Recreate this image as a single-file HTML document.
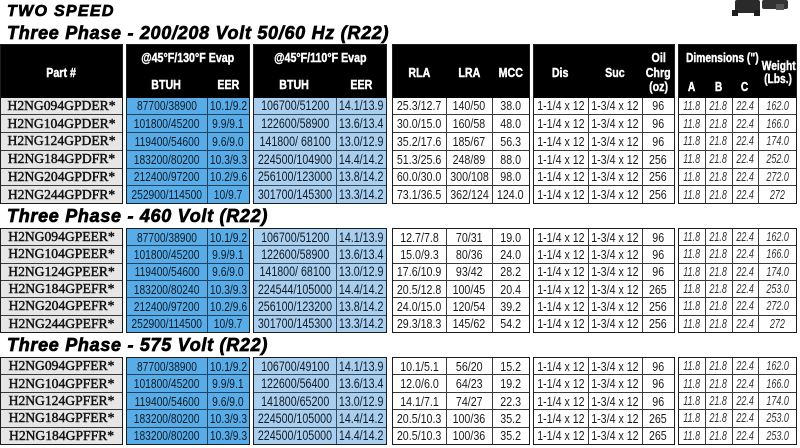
<!DOCTYPE html>
<html><head><meta charset="utf-8">
<style>
html,body{margin:0;padding:0;background:#fff}
#pg{position:relative;width:800px;height:448px;overflow:hidden;background:#fff;font-family:"Liberation Sans",Arial,sans-serif}
.t{position:absolute;left:7px;font-family:"Liberation Sans",Arial,sans-serif;font-weight:bold;font-style:italic;color:#000;white-space:nowrap;-webkit-text-stroke:0.7px #000}
.t1{top:4px;font-size:16px;line-height:16px;letter-spacing:1.3px}
.t2{font-size:18px;line-height:18px;letter-spacing:0.7px}
.b{position:absolute;box-sizing:border-box;border:1.5px solid #1c1c1c;display:flex;flex-direction:column;overflow:hidden}
.h{background:#000;flex:none;height:52.5px}
.r{flex:1;display:flex;border-top:1px solid #3a3a3a;min-height:0}
.b>.r:first-child,.h+.r{border-top:none}
.c{display:flex;align-items:center;justify-content:center;border-left:1px solid #3a3a3a;box-sizing:border-box;flex:none;overflow:visible;color:#1a1a1a;min-width:0}
.c:first-child{border-left:none}
.c.f{flex:1 1 0;min-width:0}
.c span{display:inline-block;transform:scaleX(.82);white-space:nowrap;flex:none}
.p{background:#e6e6e6}
.p .c{font-family:"Liberation Serif","Times New Roman",serif;font-size:13.6px;color:#111;-webkit-text-stroke:0.45px #111}
.p .c span{transform:none}
.b1{background:#58ade8;font-size:13px}
.b1 .c{color:#0f1a26;border-color:#24425c}
.b1 .c span{transform:scaleX(.79)}
.b1 .r{border-color:#24425c}
.b2{background:#a9cff0;font-size:13.5px}
.b2 .c{color:#111a22;border-color:#3a4a58}
.b2 .c span{transform:scaleX(.79)}
.b2 .r{border-color:#3a4a58}
.b3,.b4{background:#fff;font-size:13px}
.b5{background:#fff;font-size:12.5px;font-style:italic}
.b5 .c{color:#333}
.b5 .c span{transform:scaleX(.72)}
.hl{position:absolute;color:#fff;font-family:"Liberation Sans",Arial,sans-serif;font-weight:bold;font-size:13px;line-height:14px;height:14px;text-align:center;white-space:nowrap;-webkit-text-stroke:0.4px #fff}
.hl span{display:inline-block;transform:scaleX(.82)}
.hs{font-size:12.5px}
</style></head><body>
<div id="pg">
<svg style="position:absolute;left:728px;top:0" width="66" height="18" viewBox="0 0 66 18">
<rect x="7" y="0" width="25" height="13" rx="2" fill="#2a2a2a"/>
<rect x="4" y="10" width="6" height="6" fill="#1e1e1e"/>
<rect x="26" y="10" width="6" height="6" fill="#1e1e1e"/>
<rect x="34" y="0" width="26" height="9" rx="2" fill="#333"/>
<rect x="48" y="4" width="8" height="6" fill="#555"/>
</svg>
<div class="t t1">TWO SPEED</div>
<div class="t t2" style="top:23.8px">Three Phase - 200/208 Volt 50/60 Hz (R22)</div>
<div class="t t2" style="top:206.8px">Three Phase - 460 Volt (R22)</div>
<div class="t t2" style="top:335.8px">Three Phase - 575 Volt (R22)</div>

<!-- SECTION 1 -->
<div class="b p" style="left:0;top:44px;width:123px;height:160px">
<div class="h"></div>
<div class="r"><div class="c f"><span>H2NG094GPDER*</span></div></div>
<div class="r"><div class="c f"><span>H2NG104GPDER*</span></div></div>
<div class="r"><div class="c f"><span>H2NG124GPDER*</span></div></div>
<div class="r"><div class="c f"><span>H2NG184GPDFR*</span></div></div>
<div class="r"><div class="c f"><span>H2NG204GPDFR*</span></div></div>
<div class="r"><div class="c f"><span>H2NG244GPDFR*</span></div></div>
</div>
<div class="b b1" style="left:126px;top:44px;width:124px;height:160px">
<div class="h"></div>
<div class="r"><div class="c" style="width:79.5px"><span>87700/38900</span></div><div class="c f"><span>10.1/9.2</span></div></div>
<div class="r"><div class="c" style="width:79.5px"><span>101800/45200</span></div><div class="c f"><span>9.9/9.1</span></div></div>
<div class="r"><div class="c" style="width:79.5px"><span>119400/54600</span></div><div class="c f"><span>9.6/9.0</span></div></div>
<div class="r"><div class="c" style="width:79.5px"><span>183200/80200</span></div><div class="c f"><span>10.3/9.3</span></div></div>
<div class="r"><div class="c" style="width:79.5px"><span>212400/97200</span></div><div class="c f"><span>10.2/9.6</span></div></div>
<div class="r"><div class="c" style="width:79.5px"><span>252900/114500</span></div><div class="c f"><span>10/9.7</span></div></div>
</div>
<div class="b b2" style="left:253px;top:44px;width:134px;height:160px">
<div class="h"></div>
<div class="r"><div class="c" style="width:81.5px"><span>106700/51200</span></div><div class="c f"><span>14.1/13.9</span></div></div>
<div class="r"><div class="c" style="width:81.5px"><span>122600/58900</span></div><div class="c f"><span>13.6/13.4</span></div></div>
<div class="r"><div class="c" style="width:81.5px"><span>141800/ 68100</span></div><div class="c f"><span>13.0/12.9</span></div></div>
<div class="r"><div class="c" style="width:81.5px"><span>224500/104900</span></div><div class="c f"><span>14.4/14.2</span></div></div>
<div class="r"><div class="c" style="width:81.5px"><span>256100/123000</span></div><div class="c f"><span>13.8/14.2</span></div></div>
<div class="r"><div class="c" style="width:81.5px"><span>301700/145300</span></div><div class="c f"><span>13.3/14.2</span></div></div>
</div>
<div class="b b3" style="left:392px;top:44px;width:138px;height:160px">
<div class="h"></div>
<div class="r"><div class="c" style="width:52.5px"><span>25.3/12.7</span></div><div class="c" style="width:46px"><span>140/50</span></div><div class="c f"><span>38.0</span></div></div>
<div class="r"><div class="c" style="width:52.5px"><span>30.0/15.0</span></div><div class="c" style="width:46px"><span>160/58</span></div><div class="c f"><span>48.0</span></div></div>
<div class="r"><div class="c" style="width:52.5px"><span>35.2/17.6</span></div><div class="c" style="width:46px"><span>185/67</span></div><div class="c f"><span>56.3</span></div></div>
<div class="r"><div class="c" style="width:52.5px"><span>51.3/25.6</span></div><div class="c" style="width:46px"><span>248/89</span></div><div class="c f"><span>88.0</span></div></div>
<div class="r"><div class="c" style="width:52.5px"><span>60.0/30.0</span></div><div class="c" style="width:46px"><span>300/108</span></div><div class="c f"><span>98.0</span></div></div>
<div class="r"><div class="c" style="width:52.5px"><span>73.1/36.5</span></div><div class="c" style="width:46px"><span>362/124</span></div><div class="c f"><span>124.0</span></div></div>
</div>
<div class="b b4" style="left:533px;top:44px;width:142px;height:160px">
<div class="h"></div>
<div class="r"><div class="c" style="width:53.5px"><span>1-1/4 x 12</span></div><div class="c" style="width:54px"><span>1-3/4 x 12</span></div><div class="c f"><span>96</span></div></div>
<div class="r"><div class="c" style="width:53.5px"><span>1-1/4 x 12</span></div><div class="c" style="width:54px"><span>1-3/4 x 12</span></div><div class="c f"><span>96</span></div></div>
<div class="r"><div class="c" style="width:53.5px"><span>1-1/4 x 12</span></div><div class="c" style="width:54px"><span>1-3/4 x 12</span></div><div class="c f"><span>96</span></div></div>
<div class="r"><div class="c" style="width:53.5px"><span>1-1/4 x 12</span></div><div class="c" style="width:54px"><span>1-3/4 x 12</span></div><div class="c f"><span>256</span></div></div>
<div class="r"><div class="c" style="width:53.5px"><span>1-1/4 x 12</span></div><div class="c" style="width:54px"><span>1-3/4 x 12</span></div><div class="c f"><span>256</span></div></div>
<div class="r"><div class="c" style="width:53.5px"><span>1-1/4 x 12</span></div><div class="c" style="width:54px"><span>1-3/4 x 12</span></div><div class="c f"><span>256</span></div></div>
</div>
<div class="b b5" style="left:678px;top:44px;width:119px;height:160px">
<div class="h"></div>
<div class="r"><div class="c" style="width:25.5px"><span>11.8</span></div><div class="c" style="width:27px"><span>21.8</span></div><div class="c" style="width:26px"><span>22.4</span></div><div class="c f"><span>162.0</span></div></div>
<div class="r"><div class="c" style="width:25.5px"><span>11.8</span></div><div class="c" style="width:27px"><span>21.8</span></div><div class="c" style="width:26px"><span>22.4</span></div><div class="c f"><span>166.0</span></div></div>
<div class="r"><div class="c" style="width:25.5px"><span>11.8</span></div><div class="c" style="width:27px"><span>21.8</span></div><div class="c" style="width:26px"><span>22.4</span></div><div class="c f"><span>174.0</span></div></div>
<div class="r"><div class="c" style="width:25.5px"><span>11.8</span></div><div class="c" style="width:27px"><span>21.8</span></div><div class="c" style="width:26px"><span>22.4</span></div><div class="c f"><span>252.0</span></div></div>
<div class="r"><div class="c" style="width:25.5px"><span>11.8</span></div><div class="c" style="width:27px"><span>21.8</span></div><div class="c" style="width:26px"><span>22.4</span></div><div class="c f"><span>272.0</span></div></div>
<div class="r"><div class="c" style="width:25.5px"><span>11.8</span></div><div class="c" style="width:27px"><span>21.8</span></div><div class="c" style="width:26px"><span>22.4</span></div><div class="c f"><span>272</span></div></div>
</div>

<!-- header labels -->
<div class="hl" style="left:0;width:123px;top:66px"><span>Part #</span></div>
<div class="hl" style="left:126px;width:124px;top:51px"><span>@45°F/130°F Evap</span></div>
<div class="hl" style="left:126px;width:81px;top:78px"><span>BTUH</span></div>
<div class="hl" style="left:207px;width:43px;top:78px"><span>EER</span></div>
<div class="hl" style="left:253px;width:134px;top:51px"><span>@45°F/110°F Evap</span></div>
<div class="hl" style="left:253px;width:83px;top:78px"><span>BTUH</span></div>
<div class="hl" style="left:336px;width:51px;top:78px"><span>EER</span></div>
<div class="hl" style="left:392px;width:54px;top:66px"><span>RLA</span></div>
<div class="hl" style="left:446px;width:46px;top:66px"><span>LRA</span></div>
<div class="hl" style="left:492px;width:38px;top:66px"><span>MCC</span></div>
<div class="hl" style="left:533px;width:55px;top:66px"><span>Dis</span></div>
<div class="hl" style="left:588px;width:54px;top:66px"><span>Suc</span></div>
<div class="hl" style="left:642px;width:33px;top:51px"><span>Oil</span></div>
<div class="hl" style="left:642px;width:33px;top:65.5px"><span>Chrg</span></div>
<div class="hl" style="left:642px;width:33px;top:80px"><span>(oz)</span></div>
<div class="hl hs" style="left:678px;width:80px;top:51px"><span>Dimensions (")</span></div>
<div class="hl hs" style="left:678px;width:27px;top:80px"><span>A</span></div>
<div class="hl hs" style="left:705px;width:27px;top:80px"><span>B</span></div>
<div class="hl hs" style="left:732px;width:26px;top:80px"><span>C</span></div>
<div class="hl hs" style="left:758px;width:40px;top:59px"><span>Weight</span></div>
<div class="hl hs" style="left:758px;width:40px;top:72px"><span>(Lbs.)</span></div>

<!-- SECTION 2 -->
<div class="b p" style="left:0;top:228px;width:123px;height:105px">
<div class="r"><div class="c f"><span>H2NG094GPEER*</span></div></div>
<div class="r"><div class="c f"><span>H2NG104GPEER*</span></div></div>
<div class="r"><div class="c f"><span>H2NG124GPEER*</span></div></div>
<div class="r"><div class="c f"><span>H2NG184GPEFR*</span></div></div>
<div class="r"><div class="c f"><span>H2NG204GPEFR*</span></div></div>
<div class="r"><div class="c f"><span>H2NG244GPEFR*</span></div></div>
</div>
<div class="b b1" style="left:126px;top:228px;width:124px;height:105px">
<div class="r"><div class="c" style="width:79.5px"><span>87700/38900</span></div><div class="c f"><span>10.1/9.2</span></div></div>
<div class="r"><div class="c" style="width:79.5px"><span>101800/45200</span></div><div class="c f"><span>9.9/9.1</span></div></div>
<div class="r"><div class="c" style="width:79.5px"><span>119400/54600</span></div><div class="c f"><span>9.6/9.0</span></div></div>
<div class="r"><div class="c" style="width:79.5px"><span>183200/80240</span></div><div class="c f"><span>10.3/9.3</span></div></div>
<div class="r"><div class="c" style="width:79.5px"><span>212400/97200</span></div><div class="c f"><span>10.2/9.6</span></div></div>
<div class="r"><div class="c" style="width:79.5px"><span>252900/114500</span></div><div class="c f"><span>10/9.7</span></div></div>
</div>
<div class="b b2" style="left:253px;top:228px;width:134px;height:105px">
<div class="r"><div class="c" style="width:81.5px"><span>106700/51200</span></div><div class="c f"><span>14.1/13.9</span></div></div>
<div class="r"><div class="c" style="width:81.5px"><span>122600/58900</span></div><div class="c f"><span>13.6/13.4</span></div></div>
<div class="r"><div class="c" style="width:81.5px"><span>141800/ 68100</span></div><div class="c f"><span>13.0/12.9</span></div></div>
<div class="r"><div class="c" style="width:81.5px"><span>224544/105000</span></div><div class="c f"><span>14.4/14.2</span></div></div>
<div class="r"><div class="c" style="width:81.5px"><span>256100/123200</span></div><div class="c f"><span>13.8/14.2</span></div></div>
<div class="r"><div class="c" style="width:81.5px"><span>301700/145300</span></div><div class="c f"><span>13.3/14.2</span></div></div>
</div>
<div class="b b3" style="left:392px;top:228px;width:138px;height:105px">
<div class="r"><div class="c" style="width:52.5px"><span>12.7/7.8</span></div><div class="c" style="width:46px"><span>70/31</span></div><div class="c f"><span>19.0</span></div></div>
<div class="r"><div class="c" style="width:52.5px"><span>15.0/9.3</span></div><div class="c" style="width:46px"><span>80/36</span></div><div class="c f"><span>24.0</span></div></div>
<div class="r"><div class="c" style="width:52.5px"><span>17.6/10.9</span></div><div class="c" style="width:46px"><span>93/42</span></div><div class="c f"><span>28.2</span></div></div>
<div class="r"><div class="c" style="width:52.5px"><span>20.5/12.8</span></div><div class="c" style="width:46px"><span>100/45</span></div><div class="c f"><span>20.4</span></div></div>
<div class="r"><div class="c" style="width:52.5px"><span>24.0/15.0</span></div><div class="c" style="width:46px"><span>120/54</span></div><div class="c f"><span>39.2</span></div></div>
<div class="r"><div class="c" style="width:52.5px"><span>29.3/18.3</span></div><div class="c" style="width:46px"><span>145/62</span></div><div class="c f"><span>54.2</span></div></div>
</div>
<div class="b b4" style="left:533px;top:228px;width:142px;height:105px">
<div class="r"><div class="c" style="width:53.5px"><span>1-1/4 x 12</span></div><div class="c" style="width:54px"><span>1-3/4 x 12</span></div><div class="c f"><span>96</span></div></div>
<div class="r"><div class="c" style="width:53.5px"><span>1-1/4 x 12</span></div><div class="c" style="width:54px"><span>1-3/4 x 12</span></div><div class="c f"><span>96</span></div></div>
<div class="r"><div class="c" style="width:53.5px"><span>1-1/4 x 12</span></div><div class="c" style="width:54px"><span>1-3/4 x 12</span></div><div class="c f"><span>96</span></div></div>
<div class="r"><div class="c" style="width:53.5px"><span>1-1/4 x 12</span></div><div class="c" style="width:54px"><span>1-3/4 x 12</span></div><div class="c f"><span>265</span></div></div>
<div class="r"><div class="c" style="width:53.5px"><span>1-1/4 x 12</span></div><div class="c" style="width:54px"><span>1-3/4 x 12</span></div><div class="c f"><span>256</span></div></div>
<div class="r"><div class="c" style="width:53.5px"><span>1-1/4 x 12</span></div><div class="c" style="width:54px"><span>1-3/4 x 12</span></div><div class="c f"><span>256</span></div></div>
</div>
<div class="b b5" style="left:678px;top:228px;width:119px;height:105px">
<div class="r"><div class="c" style="width:25.5px"><span>11.8</span></div><div class="c" style="width:27px"><span>21.8</span></div><div class="c" style="width:26px"><span>22.4</span></div><div class="c f"><span>162.0</span></div></div>
<div class="r"><div class="c" style="width:25.5px"><span>11.8</span></div><div class="c" style="width:27px"><span>21.8</span></div><div class="c" style="width:26px"><span>22.4</span></div><div class="c f"><span>166.0</span></div></div>
<div class="r"><div class="c" style="width:25.5px"><span>11.8</span></div><div class="c" style="width:27px"><span>21.8</span></div><div class="c" style="width:26px"><span>22.4</span></div><div class="c f"><span>174.0</span></div></div>
<div class="r"><div class="c" style="width:25.5px"><span>11.8</span></div><div class="c" style="width:27px"><span>21.8</span></div><div class="c" style="width:26px"><span>22.4</span></div><div class="c f"><span>253.0</span></div></div>
<div class="r"><div class="c" style="width:25.5px"><span>11.8</span></div><div class="c" style="width:27px"><span>21.8</span></div><div class="c" style="width:26px"><span>22.4</span></div><div class="c f"><span>272.0</span></div></div>
<div class="r"><div class="c" style="width:25.5px"><span>11.8</span></div><div class="c" style="width:27px"><span>21.8</span></div><div class="c" style="width:26px"><span>22.4</span></div><div class="c f"><span>272</span></div></div>
</div>

<!-- SECTION 3 -->
<div class="b p" style="left:0;top:357px;width:123px;height:88px">
<div class="r"><div class="c f"><span>H2NG094GPFER*</span></div></div>
<div class="r"><div class="c f"><span>H2NG104GPFER*</span></div></div>
<div class="r"><div class="c f"><span>H2NG124GPFER*</span></div></div>
<div class="r"><div class="c f"><span>H2NG184GPFER*</span></div></div>
<div class="r"><div class="c f"><span>H2NG184GPFFR*</span></div></div>
</div>
<div class="b b1" style="left:126px;top:357px;width:124px;height:88px">
<div class="r"><div class="c" style="width:79.5px"><span>87700/38900</span></div><div class="c f"><span>10.1/9.2</span></div></div>
<div class="r"><div class="c" style="width:79.5px"><span>101800/45200</span></div><div class="c f"><span>9.9/9.1</span></div></div>
<div class="r"><div class="c" style="width:79.5px"><span>119400/54600</span></div><div class="c f"><span>9.6/9.0</span></div></div>
<div class="r"><div class="c" style="width:79.5px"><span>183200/80200</span></div><div class="c f"><span>10.3/9.3</span></div></div>
<div class="r"><div class="c" style="width:79.5px"><span>183200/80200</span></div><div class="c f"><span>10.3/9.3</span></div></div>
</div>
<div class="b b2" style="left:253px;top:357px;width:134px;height:88px">
<div class="r"><div class="c" style="width:81.5px"><span>106700/49100</span></div><div class="c f"><span>14.1/13.9</span></div></div>
<div class="r"><div class="c" style="width:81.5px"><span>122600/56400</span></div><div class="c f"><span>13.6/13.4</span></div></div>
<div class="r"><div class="c" style="width:81.5px"><span>141800/65200</span></div><div class="c f"><span>13.0/12.9</span></div></div>
<div class="r"><div class="c" style="width:81.5px"><span>224500/105000</span></div><div class="c f"><span>14.4/14.2</span></div></div>
<div class="r"><div class="c" style="width:81.5px"><span>224500/105000</span></div><div class="c f"><span>14.4/14.2</span></div></div>
</div>
<div class="b b3" style="left:392px;top:357px;width:138px;height:88px">
<div class="r"><div class="c" style="width:52.5px"><span>10.1/5.1</span></div><div class="c" style="width:46px"><span>56/20</span></div><div class="c f"><span>15.2</span></div></div>
<div class="r"><div class="c" style="width:52.5px"><span>12.0/6.0</span></div><div class="c" style="width:46px"><span>64/23</span></div><div class="c f"><span>19.2</span></div></div>
<div class="r"><div class="c" style="width:52.5px"><span>14.1/7.1</span></div><div class="c" style="width:46px"><span>74/27</span></div><div class="c f"><span>22.3</span></div></div>
<div class="r"><div class="c" style="width:52.5px"><span>20.5/10.3</span></div><div class="c" style="width:46px"><span>100/36</span></div><div class="c f"><span>35.2</span></div></div>
<div class="r"><div class="c" style="width:52.5px"><span>20.5/10.3</span></div><div class="c" style="width:46px"><span>100/36</span></div><div class="c f"><span>35.2</span></div></div>
</div>
<div class="b b4" style="left:533px;top:357px;width:142px;height:88px">
<div class="r"><div class="c" style="width:53.5px"><span>1-1/4 x 12</span></div><div class="c" style="width:54px"><span>1-3/4 x 12</span></div><div class="c f"><span>96</span></div></div>
<div class="r"><div class="c" style="width:53.5px"><span>1-1/4 x 12</span></div><div class="c" style="width:54px"><span>1-3/4 x 12</span></div><div class="c f"><span>96</span></div></div>
<div class="r"><div class="c" style="width:53.5px"><span>1-1/4 x 12</span></div><div class="c" style="width:54px"><span>1-3/4 x 12</span></div><div class="c f"><span>96</span></div></div>
<div class="r"><div class="c" style="width:53.5px"><span>1-1/4 x 12</span></div><div class="c" style="width:54px"><span>1-3/4 x 12</span></div><div class="c f"><span>265</span></div></div>
<div class="r"><div class="c" style="width:53.5px"><span>1-1/4 x 12</span></div><div class="c" style="width:54px"><span>1-3/4 x 12</span></div><div class="c f"><span>265</span></div></div>
</div>
<div class="b b5" style="left:678px;top:357px;width:119px;height:88px">
<div class="r"><div class="c" style="width:25.5px"><span>11.8</span></div><div class="c" style="width:27px"><span>21.8</span></div><div class="c" style="width:26px"><span>22.4</span></div><div class="c f"><span>162.0</span></div></div>
<div class="r"><div class="c" style="width:25.5px"><span>11.8</span></div><div class="c" style="width:27px"><span>21.8</span></div><div class="c" style="width:26px"><span>22.4</span></div><div class="c f"><span>166.0</span></div></div>
<div class="r"><div class="c" style="width:25.5px"><span>11.8</span></div><div class="c" style="width:27px"><span>21.8</span></div><div class="c" style="width:26px"><span>22.4</span></div><div class="c f"><span>174.0</span></div></div>
<div class="r"><div class="c" style="width:25.5px"><span>11.8</span></div><div class="c" style="width:27px"><span>21.8</span></div><div class="c" style="width:26px"><span>22.4</span></div><div class="c f"><span>253.0</span></div></div>
<div class="r"><div class="c" style="width:25.5px"><span>11.8</span></div><div class="c" style="width:27px"><span>21.8</span></div><div class="c" style="width:26px"><span>22.4</span></div><div class="c f"><span>253.0</span></div></div>
</div>
</div>
</body></html>
